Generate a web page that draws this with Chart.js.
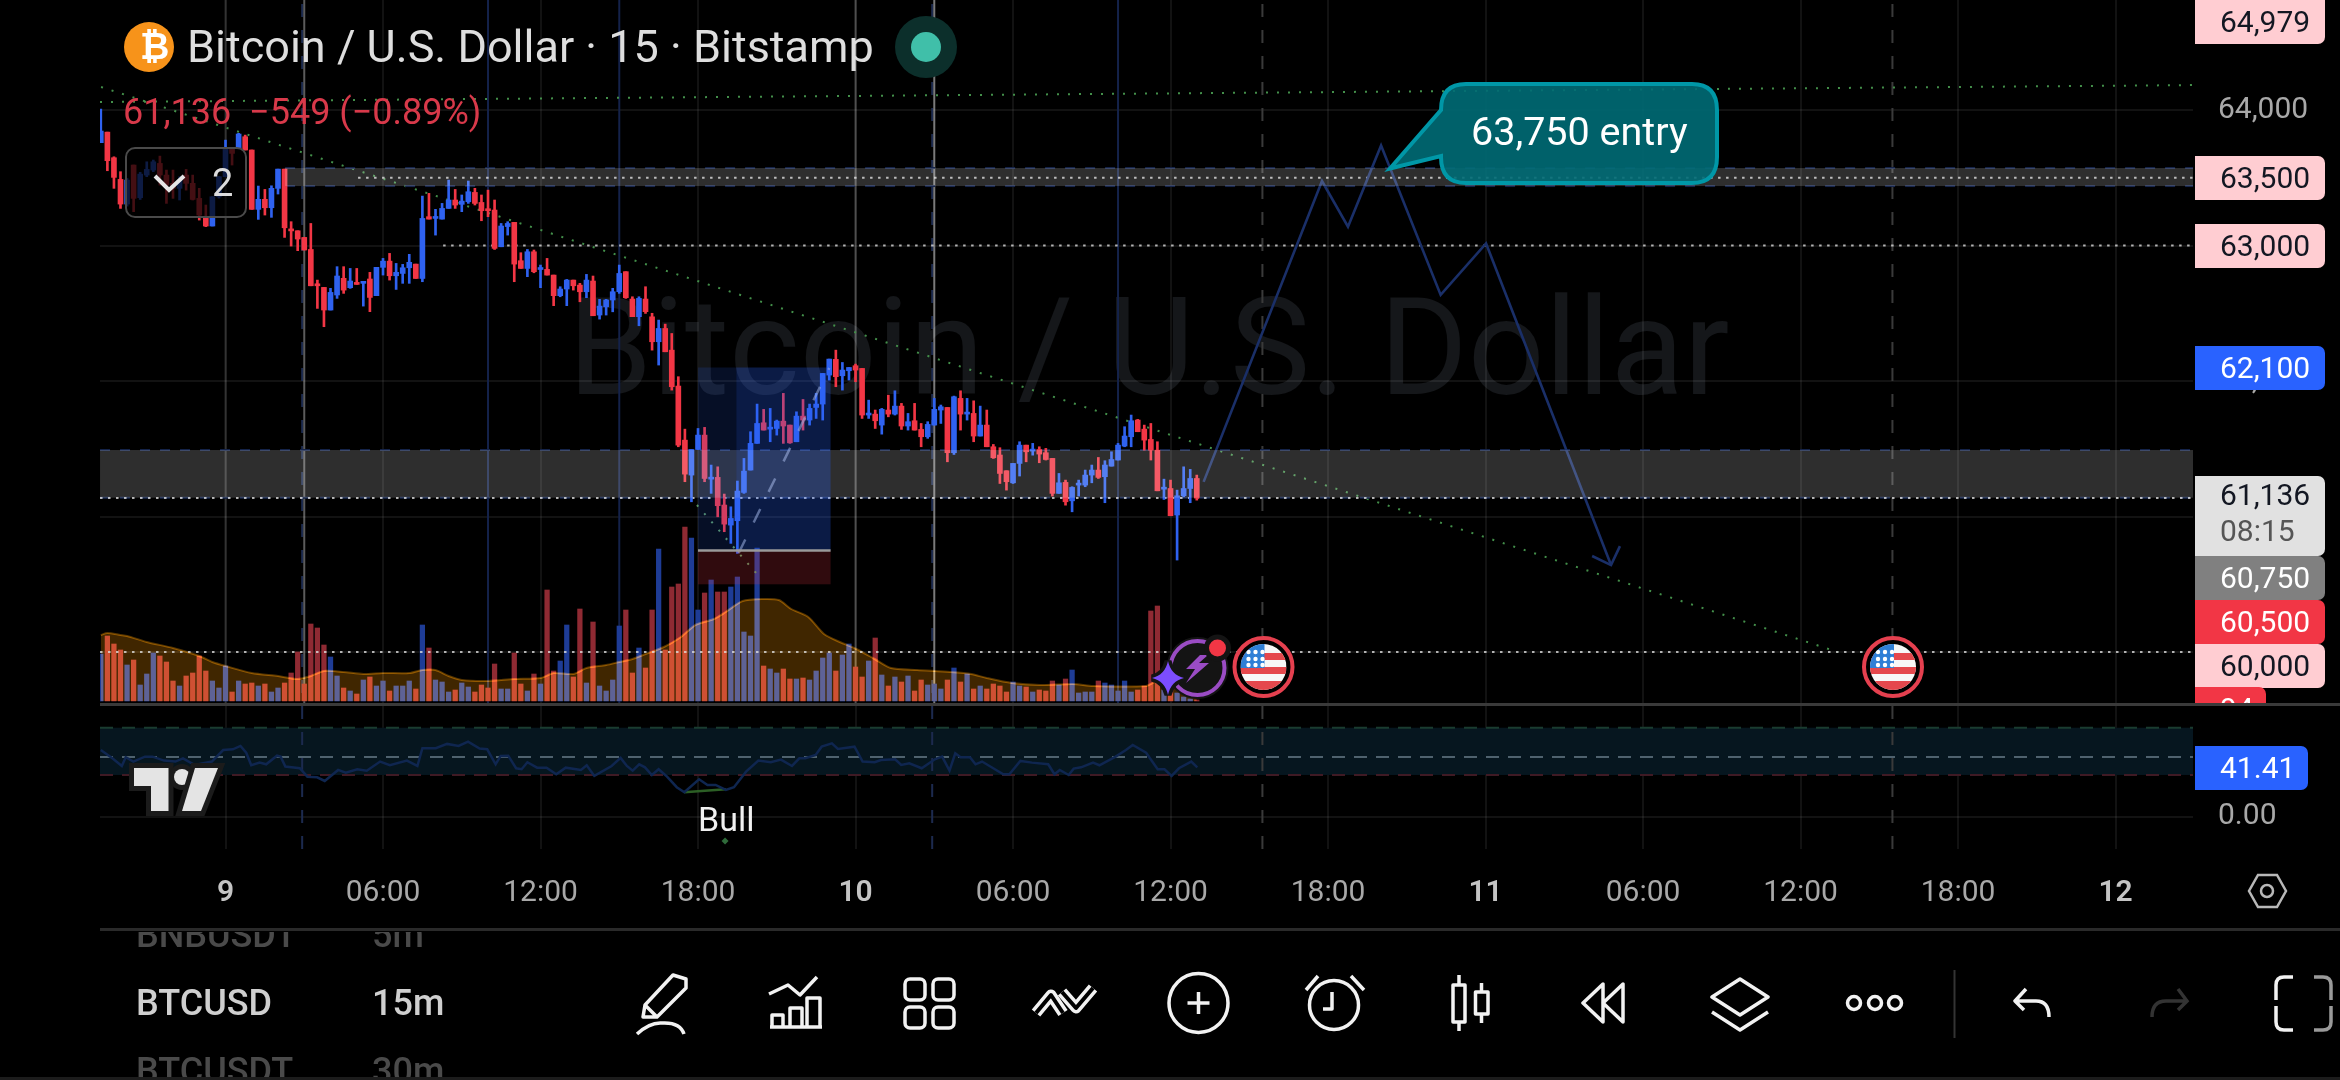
<!DOCTYPE html>
<html>
<head>
<meta charset="utf-8">
<title>Bitcoin / U.S. Dollar</title>
<script src="https://cdn.jsdelivr.net/npm/chart.js@4"></script>
<style>
  html, body { margin: 0; padding: 0; width: 2340px; height: 1080px; background: #000; overflow: hidden; font-family: Roboto, sans-serif; }
  .abs { position: absolute; white-space: nowrap; }
  #watermark { left: 568px; top: 281px; font-size: 135px; line-height: 134px; color: #15171a; z-index: 1; }
  #chart { position: absolute; left: 0; top: 0; z-index: 2; }
  #overlay { position: absolute; left: 0; top: 0; z-index: 3; }
  .txt { z-index: 4; }
  .badge { position: absolute; left: 2195px; width: 105px; height: 44px; padding-left: 25px; border-radius: 0 7px 7px 0; font-size: 30px; line-height: 44px; color: #131722; z-index: 4; overflow: hidden; }
  .pink { background: #ffcdd2; }
  .sep { position: absolute; left: 100px; width: 2240px; z-index: 3; }
  #list { position: absolute; left: 136px; top: 932px; width: 400px; height: 145px; overflow: hidden; z-index: 4; font-size: 36px; font-weight: 500; }
  #list div { position: absolute; white-space: nowrap; }
</style>
</head>
<body>
<div id="watermark" class="abs">Bitcoin / U.S. Dollar</div>
<canvas id="chart" width="2340" height="930"></canvas>

<svg id="overlay" width="2340" height="1080" viewBox="0 0 2340 1080" fill="none">
  <!-- header icons -->
  <circle cx="149" cy="47" r="25" fill="#f7931a"/>
  <circle cx="926" cy="47" r="31" fill="#0c2f2b"/>
  <circle cx="926" cy="47" r="15" fill="#40bfa9"/>

  <!-- collapsed indicators button -->
  <rect x="126" y="148" width="120" height="69" rx="9" fill="rgba(0,0,0,0.72)" stroke="#4a4a4a" stroke-width="2"/>
  <path d="M155 176 L169 190 L184 176" stroke="#e6e6e6" stroke-width="4"/>

  <!-- callout -->
  <path d="M1441 110 Q1441 84 1466 84 H1692 Q1717 84 1717 110 V157 Q1717 183 1692 183 H1466 Q1441 183 1441 157 V156 L1390 168.5 Z" fill="rgba(0,107,117,0.9)" stroke="#0097a7" stroke-width="4"/>

  <!-- tradingview logo -->
  <g stroke="#1b1b1b" stroke-width="10" paint-order="stroke" fill="#e4e4e4">
    <path d="M134 768 H168.5 V811 H151 V786 H134 Z"/>
    <circle cx="182" cy="777" r="8"/>
    <path d="M195 768 H218 L201 811 H182 Z"/>
  </g>

  <!-- event icons -->
  <circle cx="1197.5" cy="668" r="31" fill="#141414"/>
  <circle cx="1197.5" cy="668" r="27" stroke="#9a4cc4" stroke-width="4"/>
  <path d="M1200 655 L1186 669 H1195 L1186 683 L1209 663 H1199 L1208 655 Z" fill="#9a4cc4"/>
  <circle cx="1217.5" cy="648" r="11" fill="#f23645" stroke="#141414" stroke-width="5"/>
  <path d="M1168 661 Q1171 675 1184 678 Q1171 681 1168 695 Q1165 681 1152 678 Q1165 675 1168 661 Z" fill="#7c4dff" stroke="#141414" stroke-width="7" paint-order="stroke"/>
  <defs>
    <clipPath id="flagClip"><circle cx="0" cy="0" r="23"/></clipPath>
    <g id="flag">
      <circle r="31" fill="#000"/>
      <circle r="29" stroke="#e5404f" stroke-width="4"/>
      <g clip-path="url(#flagClip)">
        <rect x="-23" y="-23" width="46" height="46" fill="#f7f7f7"/>
        <rect x="-23" y="-14" width="46" height="7" fill="#e5484d"/>
        <rect x="-23" y="0" width="46" height="7" fill="#e5484d"/>
        <rect x="-23" y="14" width="46" height="9" fill="#e5484d"/>
        <rect x="-23" y="-23" width="24" height="24" fill="#2f7fd6"/>
        <g fill="#fff">
          <circle cx="-15" cy="-15" r="2.2"/><circle cx="-8" cy="-15" r="2.2"/><circle cx="-1" cy="-15" r="2.2"/>
          <circle cx="-15" cy="-8" r="2.2"/><circle cx="-8" cy="-8" r="2.2"/><circle cx="-1" cy="-8" r="2.2"/>
          <circle cx="-15" cy="-2" r="2.2"/><circle cx="-8" cy="-2" r="2.2"/><circle cx="-1" cy="-2" r="2.2"/>
        </g>
      </g>
    </g>
  </defs>
  <use href="#flag" x="1263.5" y="667"/>
  <use href="#flag" x="1893" y="667"/>

  <!-- hexagon settings -->
  <path d="M2258 875 H2277 L2286 891 L2277 907 H2258 L2249 891 Z" stroke="#b8b8b8" stroke-width="2.5"/>
  <circle cx="2267" cy="891" r="6" stroke="#b8b8b8" stroke-width="2.5"/>

  <!-- bottom toolbar -->
  <g stroke="#f2f2f2" stroke-width="3.5" stroke-linejoin="round">
    <path d="M645 1005 L673 975 L686 979 L686 988 L657 1017 L643 1017 Z M645 1005 L657 1017"/>
    <path d="M637 1034 Q650 1022 662 1023 Q680 1022 684 1034"/>
    <path d="M772 1027 V1015 H783 V1027 M790 1027 V1008 H802 V1027 M807 1027 V998 H820 V1027 M770 1027 H822"/>
    <path d="M769 994 L788 985 L800 995 L817 977"/>
    <rect x="905" y="979" width="20" height="21" rx="5"/><rect x="933" y="979" width="21" height="21" rx="5"/>
    <rect x="905" y="1007" width="20" height="21" rx="5"/><rect x="933" y="1007" width="21" height="21" rx="5"/>
    <circle cx="1198.5" cy="1003" r="29.5"/>
    <path d="M1198.5 992 V1014 M1187.5 1003 H1209.5"/>
    <circle cx="1334" cy="1005" r="24.5"/>
    <path d="M1332 992 V1009 H1323 M1306 990 L1318 976 M1364 990 L1351 976"/>
    <path d="M1459 975 V985 M1459 1022 V1031 M1481.5 983 V992 M1481.5 1014 V1023"/>
    <rect x="1453" y="985" width="12" height="37"/><rect x="1475.5" y="992" width="12.5" height="22"/>
    <path d="M1583 1003 L1603 984 V1022 Z M1603 1003 L1623 984 V1022 Z"/>
    <path d="M1740 979 L1768 997 L1740 1015 L1712 997 Z M1712 1012 L1740 1030 L1768 1012"/>
    <circle cx="1854" cy="1003" r="6.5"/><circle cx="1875" cy="1003" r="6.5"/><circle cx="1895" cy="1003" r="6.5"/>
    <path d="M2026 989 L2015 1001 L2024 1010 M2017 1001 H2036 Q2049 1001 2049 1017"/>
    <path d="M2276 1000 V985 Q2276 977 2284 977 H2293 M2276 1006 V1022 Q2276 1030 2284 1030 H2293"/>
    <path d="M2314 977 H2323 Q2331 977 2331 985 V1000 M2314 1030 H2323 Q2331 1030 2331 1022 V1006" stroke="#9a9a9a"/>
  </g>
  <g stroke="#f2f2f2" stroke-width="11" stroke-linejoin="round">
    <path d="M1036 1013 L1051 995 L1063 1013"/>
    <path d="M1062 992 L1076 1008 L1093 988"/>
  </g>
  <g stroke="#000" stroke-width="4" stroke-linejoin="round">
    <path d="M1036 1013 L1051 995 L1063 1013"/>
    <path d="M1062 992 L1076 1008 L1093 988"/>
  </g>
  <path d="M1954.5 970 V1038" stroke="#333" stroke-width="2"/>
  <path d="M2178 989 L2187 1001 L2178 1010 M2185 1001 H2166 Q2152 1001 2152 1017" stroke="#333" stroke-width="3.5"/>
</svg>

<!-- header -->
<div class="abs txt" style="left:140px;top:27px;font-size:36px;line-height:40px;font-weight:700;color:#fff;">₿</div>
<div class="abs txt" style="left:187px;top:22px;font-size:45px;line-height:50px;color:#dedede;">Bitcoin / U.S. Dollar · 15 · Bitstamp</div>
<div class="abs txt" style="left:123px;top:92px;font-size:36px;line-height:40px;color:#d8394a;">61,136&nbsp; −549 (−0.89%)</div>
<div class="abs txt" style="left:212px;top:160px;font-size:38px;line-height:46px;color:#dcdcdc;">2</div>

<!-- callout text -->
<div class="abs txt" style="left:1471px;top:110px;font-size:39.5px;line-height:44px;color:#fff;">63,750 entry</div>
<div class="abs txt" style="left:698px;top:800px;font-size:34px;line-height:38px;color:#f0f0f0;">Bull</div>

<!-- price badges -->
<div class="badge pink" style="top:0;border-radius:0 0 7px 0;">64,979</div>
<div class="badge pink" style="top:156px;">63,500</div>
<div class="badge pink" style="top:224px;">63,000</div>
<div class="badge" style="top:346px;background:#2962ff;color:#fff;">62,100</div>
<div class="badge" style="top:476px;height:80px;background:#e1e1e1;">
  <div style="line-height:38px;">61,136</div>
  <div style="line-height:34px;color:#555;">08:15</div>
</div>
<div class="badge" style="top:556px;background:#808080;color:#fff;">60,750</div>
<div class="badge" style="top:600px;background:#f23645;color:#fff;">60,500</div>
<div class="badge pink" style="top:644px;">60,000</div>
<div class="badge" style="top:687px;width:46px;height:16px;background:#f23645;color:#fff;line-height:44px;border-radius:0 7px 0 0;">94</div>
<div class="badge" style="top:746px;width:88px;background:#2962ff;color:#fff;">41.41</div>

<div class="sep" style="top:703px;height:3px;background:#3a3a3a;"></div>
<div class="sep" style="top:928px;height:3px;background:#2a2a2a;"></div>
<div class="sep" style="top:1077px;height:3px;left:0;width:2340px;background:#1c1c1c;"></div>

<div id="list">
  <div style="left:0;top:-18px;color:#4a4a4a;">BNBUSDT</div><div style="left:236px;top:-18px;color:#4a4a4a;">5m</div>
  <div style="left:0;top:50px;color:#cfcfcf;">BTCUSD</div><div style="left:236px;top:50px;color:#cfcfcf;">15m</div>
  <div style="left:0;top:118px;color:#4a4a4a;">BTCUSDT</div><div style="left:236px;top:118px;color:#4a4a4a;">30m</div>
</div>

<script>
// hours counted from 00:00 on the 9th, one bar every 15 minutes
const barHours = [
  -4.75,-4.5,-4.25,-4,-3.75,-3.5,-3.25,-3,-2.75,-2.5,-2.25,-2,-1.75,-1.5,-1.25,-1,-0.75,-0.5,-0.25,0,
  0.25,0.5,0.75,1,1.25,1.5,1.75,2,2.25,2.5,2.75,3,3.25,3.5,3.75,4,4.25,4.5,4.75,5,
  5.25,5.5,5.75,6,6.25,6.5,6.75,7,7.25,7.5,7.75,8,8.25,8.5,8.75,9,9.25,9.5,9.75,10,
  10.25,10.5,10.75,11,11.25,11.5,11.75,12,12.25,12.5,12.75,13,13.25,13.5,13.75,14,14.25,14.5,14.75,15,
  15.25,15.5,15.75,16,16.25,16.5,16.75,17,17.25,17.5,17.75,18,18.25,18.5,18.75,19,19.25,19.5,19.75,20,
  20.25,20.5,20.75,21,21.25,21.5,21.75,22,22.25,22.5,22.75,23,23.25,23.5,23.75,24,24.25,24.5,24.75,25,
  25.25,25.5,25.75,26,26.25,26.5,26.75,27,27.25,27.5,27.75,28,28.25,28.5,28.75,29,29.25,29.5,29.75,30,
  30.25,30.5,30.75,31,31.25,31.5,31.75,32,32.25,32.5,32.75,33,33.25,33.5,33.75,34,34.25,34.5,34.75,35,
  35.25,35.5,35.75,36,36.25,36.5,36.75,37
];
const opens = [
  63759,63837,63648,63488,63306,63594,63353,63520,63557,63606,
  63520,63459,63422,63520,63459,63348,63213,63144,63360,63508,
  63717,63717,63803,63705,63267,63341,63279,63422,63564,63114,
  63109,63060,62971,62708,62691,62524,62635,62758,62689,62728,
  62721,62753,62630,62839,62885,62777,62794,62836,62863,62757,
  63213,63200,63195,63274,63336,63304,63323,63392,63318,63267,
  63262,62991,63140,63171,62888,62831,62954,62823,62824,62782,
  62630,62679,62745,62708,62659,62738,62487,62548,62598,62659,
  62807,62605,62475,62605,62474,62290,62388,62228,61963,61564,
  61306,61495,61601,61276,61289,61085,60937,60969,61178,61343,
  61540,61692,61645,61650,61704,61675,61552,61741,61712,61805,
  61830,62044,62160,62039,62076,62113,62093,61749,61756,61675,
  61786,61756,61815,61668,61707,61643,61589,61675,61786,61805,
  61471,61872,61756,61761,61594,61675,61515,61454,61338,61249,
  61392,61527,61483,61495,61471,61429,61171,61252,61116,61232,
  61232,61306,61343,61294,61372,61417,61520,61589,61712,61645,
  61569,61490,61202,61207,61011,61153,61207,61281
];
const highs = [
  64007,63837,63655,63545,63495,63594,63540,63618,63631,63660,
  63557,63557,63508,63562,63520,63422,63299,63360,63510,63778,
  63717,63828,63815,63705,63439,63414,63441,63564,63564,63176,
  63109,63060,63163,62745,62691,62684,62844,62844,62831,62831,
  62728,62802,62839,62905,62942,62868,62861,62935,62863,63365,
  63385,63267,63311,63483,63414,63373,63476,63422,63373,63409,
  63336,63163,63176,63171,62947,62971,62967,62856,62905,62782,
  62696,62750,62745,62721,62787,62775,62603,62603,62684,62856,
  62807,62622,62622,62696,62500,62450,62420,62351,62032,61645,
  61495,61650,61658,61380,61367,61166,61072,61262,61429,61626,
  61830,61791,61798,61712,61909,61675,61773,61864,61830,61909,
  62056,62162,62228,62137,62100,62125,62093,61859,61786,61798,
  61896,61928,61835,61761,61835,61687,61700,61872,61823,61805,
  61889,61928,61872,61854,61815,61786,61532,61508,61338,61392,
  61552,61527,61540,61515,61503,61429,61318,61269,61220,61269,
  61343,61380,61436,61412,61478,61540,61663,61749,61717,61675,
  61687,61552,61276,61269,61195,61367,61348,61306
];
const lows = [
  63759,63552,63422,63274,63291,63250,63340,63508,63545,63446,
  63311,63348,63336,63409,63336,63188,63139,63144,63350,63508,
  63594,63717,63705,63267,63193,63225,63208,63380,63060,62996,
  62962,62967,62703,62536,62401,62524,62610,62647,62684,62713,
  62553,62512,62630,62782,62745,62676,62721,62721,62757,62733,
  63195,63077,63195,63274,63274,63250,63311,63299,63183,63213,
  62971,62991,63077,62733,62831,62770,62799,62689,62782,62556,
  62622,62556,62671,62585,62615,62482,62457,62487,62511,62647,
  62610,62475,62408,62499,62228,62118,62216,61933,61515,61257,
  61109,61495,61257,61171,60998,60888,60802,60728,61171,61343,
  61540,61638,61552,61601,61540,61540,61552,61638,61675,61724,
  61712,62007,61958,61933,62007,61995,61724,61724,61650,61608,
  61736,61749,61643,61638,61638,61515,61577,61675,61687,61404,
  61458,61638,61712,61552,61594,61515,61429,61244,61195,61244,
  61299,61404,61453,61397,61417,61151,61171,61084,61035,61151,
  61220,61249,61281,61102,61372,61417,61515,61515,61626,61490,
  61417,61190,61126,61006,60679,61146,61102,61121
];
const closes = [
  63845,63626,63503,63306,63483,63348,63527,63562,63618,63520,
  63446,63422,63483,63459,63340,63225,63144,63360,63508,63717,
  63680,63823,63705,63267,63341,63279,63422,63564,63131,63108,
  63048,62967,62703,62703,62524,62654,62775,62671,62738,62713,
  62728,62617,62839,62885,62777,62802,62836,62876,62757,63200,
  63195,63213,63274,63336,63299,63328,63397,63311,63257,63257,
  62979,63144,63163,62863,62831,62954,62807,62829,62782,62630,
  62679,62745,62703,62659,62745,62482,62553,62598,62659,62794,
  62615,62475,62610,62512,62290,62388,62216,61958,61527,61313,
  61495,61601,61281,61281,61080,60944,60986,61188,61335,61540,
  61687,61638,61650,61704,61668,61544,61741,61712,61798,61830,
  62056,62162,62032,62081,62100,62081,61749,61761,61707,61791,
  61756,61815,61668,61700,61638,61589,61680,61791,61810,61471,
  61884,61756,61761,61594,61675,61515,61434,61318,61257,61392,
  61527,61478,61490,61461,61421,61171,61249,61109,61215,61237,
  61306,61343,61289,61380,61421,61527,61594,61707,61626,61564,
  61490,61190,61207,61006,61153,61207,61281,61136
];
const volumes = [
  47,65,57,51,36,41,16,27,48,45,
  39,20,15,25,28,45,30,20,13,35,
  9,20,17,18,15,17,9,13,18,28,
  49,17,77,73,56,44,25,13,10,7,
  21,24,15,20,10,15,15,20,12,76,
  53,21,19,9,11,18,14,9,16,13,
  37,12,12,48,17,10,27,17,111,30,
  40,76,24,92,18,79,15,10,21,75,
  91,28,53,33,91,152,51,114,117,174,
  163,91,108,121,109,109,114,124,69,65,
  153,35,32,28,32,22,22,23,21,30,
  43,48,30,46,57,34,24,40,63,26,
  15,24,19,25,10,21,16,17,12,21,
  33,19,27,12,15,12,17,15,9,19,
  15,14,9,11,10,20,16,22,31,8,
  9,9,20,18,16,10,20,9,11,15,
  90,95,11,14,8,4,2,1
];
const volMaHours = [-4.75,-4.5,-4,-3.75,-3,-2,-1,-0.5,0,1,2,2.75,3.25,3.75,4.5,5.25,6,7,7.5,8,8.5,9,10,11,12,12.5,13.25,13.75,14.5,15,15.5,16,16.7,17.35,17.9,18.6,19.05,19.7,20.45,21.08,21.55,22.2,22.8,23.4,24.03,24.73,25.35,26.35,27.6,28.4,29,29.95,31.03,32.27,33.05,35.07,35.4,36,37];
const volMaValues = [66,68,66,65,59,53,45,39,35,28,25,22,25,30,29,27,28,28,31,31,25,21,20,22,23,28,27,33,36,39,42,47,54,64,76,82,89,100,102,101,92,84,67,59,52,42,33,31,29,27,23,18,16,17,15,15,19,23,24];
const rsiHours = [-4.75,-4.31,-3.95,-3.8,-3.51,-3.07,-2.78,-2.34,-1.91,-1.62,-1.18,-0.52,-0.09,0.28,0.57,0.79,0.98,1.3,1.55,1.96,2.1,2.28,2.83,3.12,3.49,3.78,4.29,4.58,5.02,5.38,5.89,6.26,6.91,7.31,7.5,8.01,8.44,8.88,9.24,9.68,9.97,10.29,10.48,10.77,11.07,11.28,11.5,11.87,12.23,12.6,12.96,13.54,13.76,14.05,14.71,15.05,15.29,15.51,15.76,15.98,16.24,16.5,16.82,17.19,17.48,18.04,18.36,18.67,19.06,19.37,19.83,20.3,20.77,21.16,21.58,21.86,22.09,22.48,22.71,23.1,23.33,23.96,24.27,24.73,24.97,25.51,25.74,26.05,26.52,27.02,27.3,27.58,27.8,28,28.36,28.57,28.82,29.63,29.86,30.28,30.72,31.34,31.58,31.78,32.12,32.31,32.59,33.05,33.29,33.91,34.3,34.56,35.07,35.51,35.77,36.04,36.32,36.79,37.02];
const rsiValues = [55.8,48.9,42.5,49.8,46.2,50.3,50.3,47,46.2,48.9,43.4,46.2,55.8,56.4,59.2,53.6,43.1,45.3,43.9,51.1,50.3,42,40.6,33.6,33.1,30,39.2,37,39.8,38.6,46.2,43.1,47,42.5,57.3,57.3,60.9,59.2,62.8,57,56.4,43.9,50.9,51.1,40.6,39.8,45.6,41.1,41.1,35.6,41.1,39.2,43.1,34.2,42.5,49.2,42.5,38.6,43.9,41.4,35,39.8,33.6,24.8,20.6,31.4,26.7,26.7,22.5,24.8,37.8,47,45.6,47.8,42.5,48.9,48.9,51.7,58.6,61.4,56.7,58.6,46.2,45.6,47.5,48.1,43.4,44.8,40.6,48.1,50.3,38.6,53.1,49.8,49.8,43.9,46.2,35.6,35.6,46.7,45.3,43.9,35.6,39.2,35,40.3,41.4,45.3,43.1,50.3,55.8,60,53.6,39.8,39.8,34.2,40.6,46.2,41.41];
const rsiLevels = [74.4, 50, 35];

const xTickHours = [0,6,12,18,24,30,36,42,48,54,60,66,72];
const xTickLabels = ['9','06:00','12:00','18:00','10','06:00','12:00','18:00','11','06:00','12:00','18:00','12'];
const priceTicks = [64000,63000,62000,61000,60000];
const rsiTicks = [0];

// user drawings, in hours and prices
const pathHours = [37.26,41.77,42.76,44.02,46.29,48.02,52.78];
const pathPrices = [61256,63476,63139,63739,62636,63015,60642];
const arrowHours = [52.06,52.78,53.12];
const arrowPrices = [60709,60642,60782];
const levelPrices = [63500,63000,61136,60000];
const levelStarts = [5.05,8.29,-4.78,-4.78];
const zoneTops = [63572,61491];
const zoneBottoms = [63439,61139];
const zoneStarts = [2.27,-4.78];
const trendHours = [[-4.74,61.43],[-4.78,74.95],[17.96,20.38]];
const trendPrices = [[64170,60000],[64059,64184],[61085,60546]];
const tradeHours = [19.55,23];
const tradePrices = [60731,62096];
const boxHours = [18,19.46,23.05];
const boxPrices = [62100,60750,60500];
const grayLines = [0,3,24,27];
const blueLines = [10,15,34];
const dashedLines = [2.92,26.92,39.5,63.5];
const bullHours = [17.47,19.06];
const bullRsi = [20.6,23.1];
const bullMarkHours = [19.03];
const bullMarkRsi = [-20];

const HOUR_MIN = -4.781, HOUR_MAX = 74.95;
const PRICE_MIN = 59624, PRICE_MAX = 64812;
const UP = '#2f62f0', DOWN = '#f23645';

function zip(xs, ys) {
  return xs.map((x, i) => ({x: x, y: ys[i]}));
}

function lineSet(points, color, width, dash, axis, order) {
  return {
    type: 'line', data: points, borderColor: color, borderWidth: width, borderDash: dash || [],
    pointRadius: 0, fill: false, tension: 0, yAxisID: axis || 'y', order: order
  };
}

function isDayTick(ctx) {
  const label = xTickLabels[ctx.index];
  return label !== undefined && label.length < 3;
}

// tick labels must not push the panes in from the canvas edges
function noLabelPadding(scale) {
  scale._calculatePadding = function () {
    this.paddingLeft = this.paddingRight = this.paddingTop = this.paddingBottom = 0;
  };
}

const isUp = closes.map((c, i) => c >= opens[i]);
const datasets = [];

// vertical session / marker lines
const grayAlpha = [0.14, 0.36, 0.26, 0.48];
grayLines.forEach((h, i) => {
  datasets.push(lineSet(zip([h, h], [PRICE_MIN, PRICE_MAX]), 'rgba(255,255,255,' + grayAlpha[i] + ')', 2, [], 'y', 10));
});
blueLines.forEach(h => {
  datasets.push(lineSet(zip([h, h], [PRICE_MIN, PRICE_MAX]), '#14224a', 2, [], 'y', 10));
});
dashedLines.forEach((h, i) => {
  datasets.push(lineSet(zip([h, h], [-148, 701]), i < 2 ? '#1c2a4e' : '#3a3a3a', 2, [13, 13], 'vol', 10));
});

// volume and its moving average
datasets.push({
  type: 'bar', label: 'vol', data: zip(barHours, volumes), yAxisID: 'vol', grouped: false, barThickness: 4.6,
  backgroundColor: isUp.map(u => u ? 'rgb(30,60,150)' : 'rgb(143,42,51)'), order: 9
});
datasets.push({
  type: 'line', label: 'volMa', data: zip(volMaHours, volMaValues), yAxisID: 'vol', tension: 0.25, pointRadius: 0,
  borderColor: 'rgb(85,52,0)', borderWidth: 2, backgroundColor: 'rgb(64,38,0)', fill: {value: 0}, order: 8
});

// horizontal levels and trend lines
levelPrices.forEach((p, i) => {
  datasets.push(lineSet(zip([levelStarts[i], HOUR_MAX], [p, p]), 'rgba(225,225,225,0.78)', 2, [2.5, 5.5], 'y', 7));
});
zoneTops.forEach((p, i) => {
  datasets.push(lineSet(zip([zoneStarts[i], HOUR_MAX], [p, p]), '#15244a', 2, [10, 10], 'y', 7));
  datasets.push(lineSet(zip([zoneStarts[i], HOUR_MAX], [zoneBottoms[i], zoneBottoms[i]]), '#15244a', 2, [10, 10], 'y', 7));
});
trendHours.forEach((hs, i) => {
  datasets.push(lineSet(zip(hs, trendPrices[i]), i === 2 ? '#5a9660' : '#438f4a', 2, [2, 9], 'y', 7));
});

// candles
datasets.push({
  type: 'bar', data: barHours.map((h, i) => ({x: h, y: [lows[i], highs[i]]})), yAxisID: 'y', grouped: false, barThickness: 2,
  backgroundColor: isUp.map(u => u ? UP : DOWN), order: 6
});
datasets.push({
  type: 'bar', data: barHours.map((h, i) => ({x: h, y: [Math.min(opens[i], closes[i]), Math.max(opens[i], closes[i])]})),
  yAxisID: 'y', grouped: false, barThickness: 5, minBarLength: 2,
  backgroundColor: isUp.map(u => u ? UP : DOWN), order: 5
});

// rsi pane
datasets.push(lineSet(zip([HOUR_MIN, HOUR_MAX], [rsiLevels[0], rsiLevels[0]]), '#1a3c30', 2, [13, 9], 'rsi', 4));
datasets.push(lineSet(zip([HOUR_MIN, HOUR_MAX], [rsiLevels[1], rsiLevels[1]]), '#4f626e', 2, [13, 9], 'rsi', 4));
datasets.push(lineSet(zip([HOUR_MIN, HOUR_MAX], [rsiLevels[2], rsiLevels[2]]), '#3f1a24', 2, [13, 9], 'rsi', 4));
datasets.push(lineSet(zip(rsiHours, rsiValues), '#0f2650', 2.5, [], 'rsi', 3));
datasets.push(lineSet(zip(bullHours, bullRsi), '#2c5f25', 2.5, [], 'rsi', 3));
datasets.push({
  type: 'line', data: zip(bullMarkHours, bullMarkRsi), yAxisID: 'rsi', showLine: false, order: 3,
  pointStyle: 'rectRot', pointRadius: 3.5, pointBackgroundColor: '#2f6b3a', pointBorderWidth: 0
});

// trade line and forecast path
datasets.push(lineSet(zip(tradeHours, tradePrices), 'rgba(200,205,215,0.55)', 2.5, [15, 19], 'y', 2));
datasets.push(lineSet(zip(pathHours, pathPrices), '#1a2f68', 2.6, [], 'y', 2));
datasets.push(lineSet(zip(arrowHours, arrowPrices), '#1a2f68', 2.6, [], 'y', 2));

function fillBand(chart, h1, h2, top, bottom, axis, color) {
  const sx = chart.scales.x, sy = chart.scales[axis], c = chart.ctx;
  c.fillStyle = color;
  c.fillRect(sx.getPixelForValue(h1), sy.getPixelForValue(top),
    sx.getPixelForValue(h2) - sx.getPixelForValue(h1), sy.getPixelForValue(bottom) - sy.getPixelForValue(top));
}

const panePlugin = {
  id: 'panes',
  beforeDatasetsDraw(chart) {
    fillBand(chart, HOUR_MIN, HOUR_MAX, rsiLevels[0], rsiLevels[2], 'rsi', '#06161f');
  },
  afterDatasetDraw(chart, args) {
    // the average adds light to the volume bars under it
    const label = chart.data.datasets[args.index].label;
    if (label === 'vol') chart.ctx.globalCompositeOperation = 'lighter';
    if (label === 'volMa') chart.ctx.globalCompositeOperation = 'source-over';
  },
  afterDatasetsDraw(chart) {
    zoneTops.forEach((p, i) => {
      fillBand(chart, zoneStarts[i], HOUR_MAX, p, zoneBottoms[i], 'y', 'rgba(255,255,255,0.18)');
    });
    fillBand(chart, boxHours[0], boxHours[1], boxPrices[0], boxPrices[1], 'y', 'rgba(41,98,255,0.15)');
    fillBand(chart, boxHours[1], boxHours[2], boxPrices[0], boxPrices[1], 'y', 'rgba(41,98,255,0.27)');
    fillBand(chart, boxHours[0], boxHours[2], boxPrices[1], boxPrices[2], 'y', 'rgba(242,54,69,0.2)');
    const sx = chart.scales.x, sy = chart.scales.y, c = chart.ctx;
    c.strokeStyle = '#9a9a9a';
    c.lineWidth = 2.5;
    c.beginPath();
    c.moveTo(sx.getPixelForValue(boxHours[0]), sy.getPixelForValue(boxPrices[1]));
    c.lineTo(sx.getPixelForValue(boxHours[2]), sy.getPixelForValue(boxPrices[1]));
    c.stroke();
  }
};

new Chart(document.getElementById('chart'), {
  data: {datasets: datasets},
  plugins: [panePlugin],
  options: {
    responsive: false,
    animation: false,
    devicePixelRatio: 1,
    events: [],
    layout: {autoPadding: false, padding: {left: 100}},
    plugins: {legend: {display: false}, tooltip: {enabled: false}},
    scales: {
      x: {
        type: 'linear', position: 'bottom', min: HOUR_MIN, max: HOUR_MAX, offset: false,
        beforeFit: noLabelPadding,
        afterFit(s) { s.height = 81; },
        afterBuildTicks(s) { s.ticks = xTickHours.map(v => ({value: v})); },
        border: {display: false},
        grid: {color: 'rgba(255,255,255,0.07)', lineWidth: 2, drawTicks: false, offset: false},
        ticks: {
          autoSkip: false, maxRotation: 0, padding: 26,
          color: ctx => isDayTick(ctx) ? '#c4c4c4' : '#a8a8a8',
          font: ctx => ({family: 'Roboto', size: 30, weight: isDayTick(ctx) ? '600' : '400'}),
          callback: (v, i) => xTickLabels[i]
        }
      },
      y: {
        type: 'linear', position: 'right', stack: 'panes', stackWeight: 703, min: PRICE_MIN, max: PRICE_MAX,
        beforeFit: noLabelPadding,
        afterFit(s) { s.width = 147; },
        afterBuildTicks(s) { s.ticks = priceTicks.map(v => ({value: v})); },
        border: {display: false},
        grid: {color: 'rgba(255,255,255,0.07)', lineWidth: 2, drawTicks: false},
        ticks: {
          autoSkip: false, padding: 25, color: '#a8a8a8', crossAlign: 'near',
          font: {family: 'Roboto', size: 30},
          callback: v => v.toLocaleString('en-US')
        }
      },
      rsi: {
        type: 'linear', position: 'right', stack: 'panes', stackWeight: 146, min: -26.7, max: 95,
        beforeFit: noLabelPadding,
        afterFit(s) { s.width = 147; },
        afterBuildTicks(s) { s.ticks = rsiTicks.map(v => ({value: v})); },
        border: {display: false},
        grid: {color: 'rgba(255,255,255,0.07)', lineWidth: 2, drawTicks: false},
        ticks: {
          autoSkip: false, padding: 25, color: '#a8a8a8', crossAlign: 'near',
          font: {family: 'Roboto', size: 30},
          callback: v => v.toFixed(2)
        }
      },
      vol: {type: 'linear', display: false, position: 'right', min: -148, max: 701}
    }
  }
});
</script>
</body>
</html>
